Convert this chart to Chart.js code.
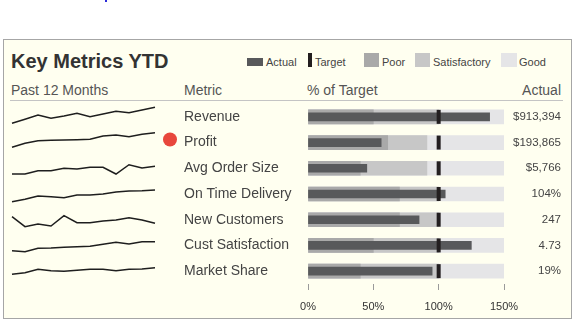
<!DOCTYPE html>
<html>
<head>
<meta charset="utf-8">
<script src="https://cdn.jsdelivr.net/npm/chart.js@4.4.1/dist/chart.umd.min.js"></script>
<style>
  body { margin: 0; background: #fff; font-family: "Liberation Sans", Arial, sans-serif; }
  #stage { position: relative; width: 573px; height: 321px; overflow: hidden; }
  #panel { position: absolute; left: 3px; top: 39px; width: 567px; height: 278px; background: #fffff0; border: 1px solid #a6a6a6; }
  .txt { position: absolute; white-space: nowrap; }
  #title { left: 11px; top: 49px; font-size: 20px; line-height: 24px; font-weight: bold; color: #333; }
  .head { top: 82px; font-size: 14px; line-height: 16px; color: #555; }
  #rule { position: absolute; left: 10px; top: 100px; width: 553px; height: 1px; background: #c4c4c4; }
  .sw { position: absolute; }
  .lg { top: 56px; font-size: 11px; line-height: 13px; color: #444; }
  #dot { position: absolute; left: 105px; top: 0; width: 2px; height: 2px; background: #2b2bd9; }
  canvas { position: absolute; }
</style>
</head>
<body>
<div id="stage">
  <div id="dot"></div>
  <div id="panel"></div>
  <div id="title" class="txt">Key Metrics YTD</div>
  <div class="txt head" style="left:11px">Past 12 Months</div>
  <div class="txt head" style="left:184px">Metric</div>
  <div class="txt head" style="left:307px">% of Target</div>
  <div class="txt head" style="right:12px">Actual</div>
  <div id="rule"></div>
  <div id="legend"></div>
  <canvas id="bullet" width="412" height="218" style="left:160px;top:100px"></canvas>
</div>
<script>
// metrics and values (% of target)
const metrics = ['Revenue', 'Profit', 'Avg Order Size', 'On Time Delivery', 'New Customers', 'Cust Satisfaction', 'Market Share'];
const actualPct = [139, 56, 45, 105, 85, 125, 95];
const targetPct = [100, 100, 100, 100, 100, 100, 100];
const poorMax = [50, 61, 40, 70, 70, 50, 40];
const satMax = [100, 91, 91, 100, 100, 100, 100];
const goodMax = [150, 150, 150, 150, 150, 150, 150];
const actualLabels = ['$913,394', '$193,865', '$5,766', '104%', '247', '4.73', '19%'];
const alerts = [false, true, false, false, false, false, false];
const pctTicks = [0, 50, 100, 150];

// past 12 months trends (relative index)
const months = ['1', '2', '3', '4', '5', '6', '7', '8', '9', '10', '11', '12'];
const revenueTrend = [6.7, 10.7, 15, 11.7, 14, 16.7, 13.3, 16, 18.7, 17.3, 20, 22.7];
const profitTrend = [8.7, 12.7, 15.3, 15.7, 16, 16.3, 16.7, 20, 21, 19.3, 21.7, 23.3];
const orderTrend = [7, 7, 10.3, 10.3, 12.7, 12, 13.7, 13.7, 7, 16.3, 13, 14.7];
const deliveryTrend = [5.3, 7.7, 11, 10.3, 9.3, 12, 12, 13, 15, 16, 16.3, 17];
const customerTrend = [16.3, 6.3, 9, 7, 17.3, 10.3, 10.3, 12, 13, 15.3, 13, 9.7];
const satisfactionTrend = [7.3, 6.3, 9.7, 10, 10.7, 11.3, 11.7, 13.7, 15.7, 14, 16.3, 16.3];
const shareTrend = [9.7, 11.3, 14.7, 13.3, 12.7, 13.7, 14.7, 14.7, 13.3, 14.7, 15, 16.3];

const colors = { poor: '#a9a9a9', sat: '#c7c7c7', good: '#e5e5e7', actual: '#58595b', target: '#231f20' };

Chart.defaults.font.family = '"Liberation Sans", Arial, sans-serif';
Chart.defaults.animation = false;

// legend
const legendItems = [
    { label: 'Actual', color: colors.actual, x: 247, w: 16, top: 58, h: 8, tx: 266 },
    { label: 'Target', color: colors.target, x: 308, w: 4, top: 53, h: 14, tx: 315 },
    { label: 'Poor', color: colors.poor, x: 364, w: 15, top: 53, h: 14, tx: 382 },
    { label: 'Satisfactory', color: colors.sat, x: 415, w: 15, top: 53, h: 14, tx: 433 },
    { label: 'Good', color: colors.good, x: 501, w: 16, top: 53, h: 14, tx: 519 }
];
const legend = document.getElementById('legend');
legendItems.forEach(function(it) {
    const sw = document.createElement('div');
    sw.className = 'sw';
    sw.style.cssText = 'left:' + it.x + 'px;top:' + it.top + 'px;width:' + it.w + 'px;height:' + it.h + 'px;background:' + it.color;
    legend.appendChild(sw);
    const t = document.createElement('div');
    t.className = 'txt lg';
    t.style.left = it.tx + 'px';
    t.textContent = it.label;
    legend.appendChild(t);
});

// sparklines
const trends = [revenueTrend, profitTrend, orderTrend, deliveryTrend, customerTrend, satisfactionTrend, shareTrend];
const stage = document.getElementById('stage');
trends.forEach(function(vals, i) {
    const cv = document.createElement('canvas');
    cv.width = 145;
    cv.height = 26;
    cv.style.left = '11px';
    cv.style.top = Math.round(116.9 + i * 25.714 - 13) + 'px';
    stage.appendChild(cv);
    new Chart(cv.getContext('2d'), {
        type: 'line',
        data: {
            labels: months,
            datasets: [{
                data: vals,
                borderColor: '#1e1e1e',
                borderWidth: 1.5,
                pointRadius: 0,
                tension: 0,
                clip: false
            }]
        },
        options: {
            responsive: false,
            layout: { autoPadding: false, padding: { left: 1, right: 1, top: 0, bottom: 0 } },
            plugins: { legend: { display: false }, tooltip: { enabled: false } },
            scales: {
                x: { display: false, offset: false },
                y: { display: false, min: 0, max: 26 }
            }
        }
    });
});

// red alert dots next to metric names
const alertDots = {
    id: 'alertDots',
    afterDraw(chart) {
        const y = chart.scales.y;
        const ctx = chart.ctx;
        ctx.save();
        ctx.fillStyle = '#e8473c';
        alerts.forEach(function(a, i) {
            if (!a) return;
            ctx.beginPath();
            ctx.arc(y.left - 14, y.getPixelForValue(i) - 3, 7, 0, Math.PI * 2);
            ctx.fill();
        });
        ctx.restore();
    }
};

// keep the category axes from pushing the plot area down
function fitSide(w) {
    return function(scale) {
        scale.width = w;
        scale.paddingTop = 0;
        scale.paddingBottom = 0;
    };
}

const bctx = document.getElementById('bullet').getContext('2d');
new Chart(bctx, {
    type: 'bar',
    data: {
        labels: metrics,
        datasets: [
            { label: 'Good', data: goodMax, backgroundColor: colors.good, barThickness: 14, grouped: false, order: 5 },
            { label: 'Satisfactory', data: satMax, backgroundColor: colors.sat, barThickness: 14, grouped: false, order: 4 },
            { label: 'Poor', data: poorMax, backgroundColor: colors.poor, barThickness: 14, grouped: false, order: 3 },
            { label: 'Actual', data: actualPct, backgroundColor: colors.actual, barThickness: 8, grouped: false, order: 2 },
            {
                type: 'line',
                label: 'Target',
                data: targetPct,
                indexAxis: 'y',
                showLine: false,
                pointStyle: 'line',
                rotation: 90,
                pointRadius: 7,
                pointBorderWidth: 4,
                borderColor: colors.target,
                order: 1
            }
        ]
    },
    options: {
        indexAxis: 'y',
        responsive: false,
        layout: { autoPadding: false, padding: { left: 24, right: 11, top: 4, bottom: 4 } },
        plugins: { legend: { display: false }, tooltip: { enabled: false } },
        scales: {
            x: {
                min: 0,
                max: 150,
                afterBuildTicks: function(scale) { scale.ticks = pctTicks.map(function(v) { return { value: v }; }); },
                afterFit: function(scale) { scale.height = 30; scale.paddingLeft = 0; scale.paddingRight = 0; },
                grid: { drawOnChartArea: false, tickLength: 6, color: '#9a9a9a' },
                border: { display: false },
                ticks: {
                    padding: 10,
                    color: '#333',
                    font: { size: 11 },
                    callback: function(v) { return v + '%'; }
                }
            },
            y: {
                afterFit: fitSide(124),
                grid: { display: false },
                border: { display: false },
                ticks: { crossAlign: 'far', padding: 0, color: '#444', font: { size: 14, lineHeight: 0.5 } }
            },
            y2: {
                type: 'category',
                position: 'right',
                labels: actualLabels,
                offset: true,
                afterFit: fitSide(57),
                grid: { display: false },
                border: { display: false },
                ticks: { crossAlign: 'far', padding: 0, color: '#444', font: { size: 11.5, lineHeight: 0.5 } }
            }
        }
    },
    plugins: [alertDots]
});
</script>
</body>
</html>
